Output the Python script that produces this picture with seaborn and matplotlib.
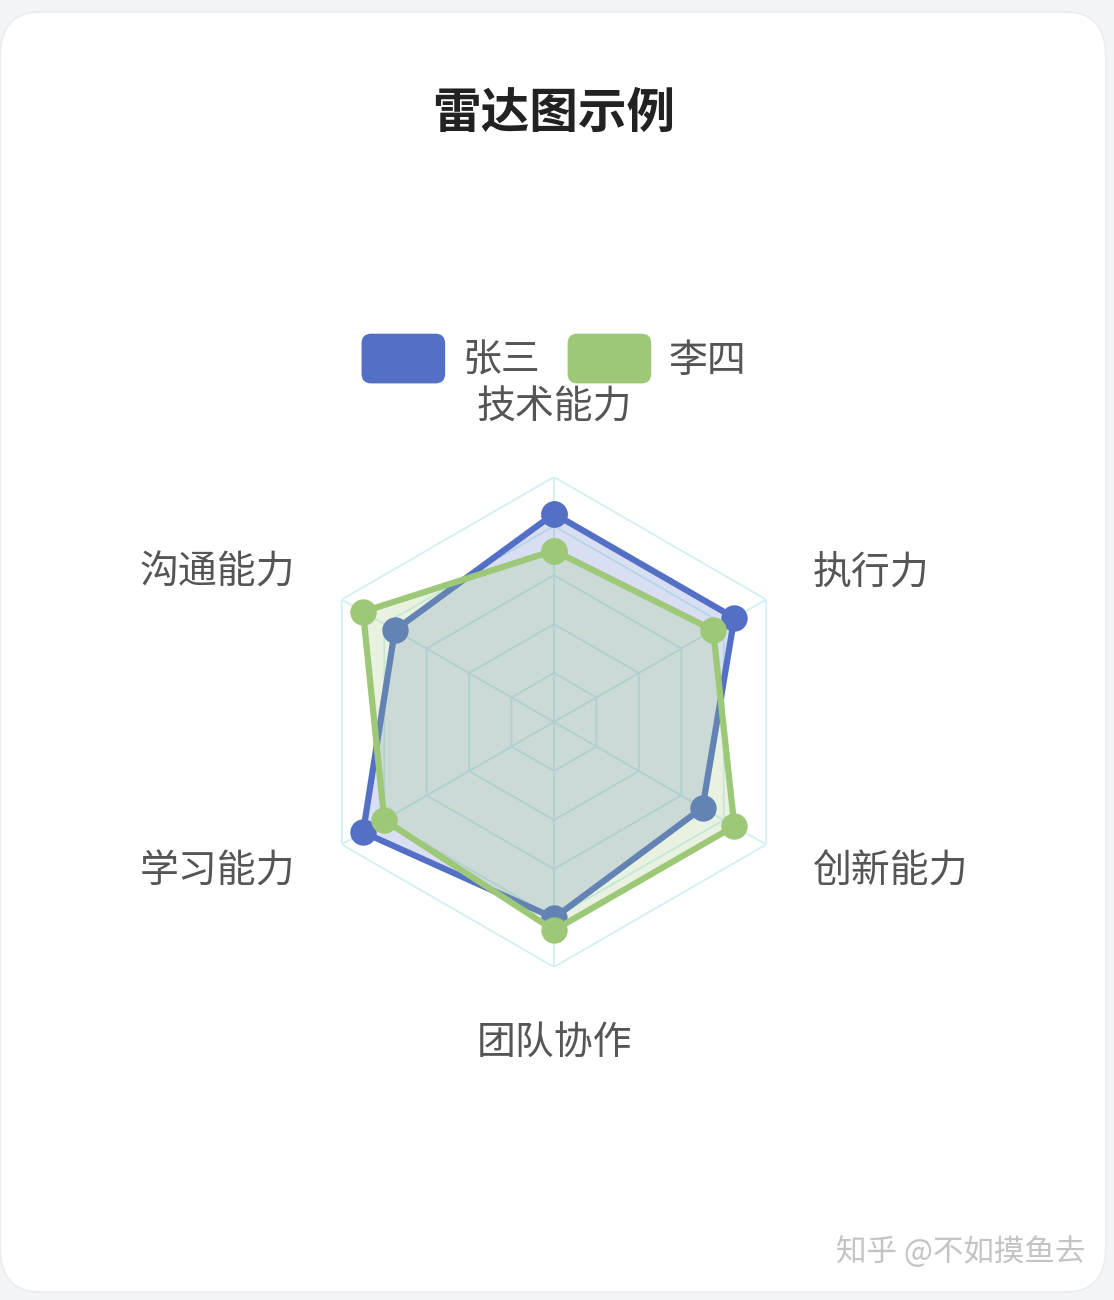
import numpy as np
import pandas as pd
import matplotlib
matplotlib.use("Agg")
import matplotlib.pyplot as plt
import seaborn as sns
from matplotlib.patches import FancyBboxPatch
from matplotlib.legend_handler import HandlerPatch

# data
indicators = ["技术能力", "执行力", "创新能力", "团队协作", "学习能力", "沟通能力"]
zhang_san = [85, 85, 70, 80, 90, 75]
li_si = [70, 75, 85, 85, 80, 90]
series_names = ["张三", "李四"]
max_value = 100
ring_levels = [20, 40, 60, 80, 100]

blue = "#5470c6"
green = "#9cc877"

sns.set_theme(style="white")
plt.rcParams["font.family"] = ["Noto Sans CJK SC", "DejaVu Sans"]

fig = plt.figure(figsize=(11.14, 13.0), dpi=100)
fig.patch.set_facecolor("#f3f4f6")

# white card
card = FancyBboxPatch((0.0, 8 / 1300), 1106 / 1114, 1280 / 1300,
                      boxstyle="round,pad=0,rounding_size=0.035",
                      transform=fig.transFigure, facecolor="white",
                      edgecolor="#eceef1", lw=1.5, zorder=-10)
fig.patches.append(card)

fig.text(554 / 1114, 1 - 113 / 1300, "雷达图示例", ha="center", va="center",
         fontsize=35, fontweight="bold", color="#222222")

cx, cy, rad = 554, 722, 245
ax = fig.add_axes([(cx - rad) / 1114, 1 - (cy + rad) / 1300,
                   2 * rad / 1114, 2 * rad / 1300], projection="polar")
ax.set_zorder(5)
ax.set_theta_offset(np.pi / 2)
ax.set_theta_direction(-1)
ax.set_facecolor("none")
ax.grid(False)
ax.spines["polar"].set_visible(False)

n = len(indicators)
angles = np.linspace(0, 2 * np.pi, n, endpoint=False)
closed = np.append(angles, angles[0] + 2 * np.pi)

# grid rings and spokes
for lv in ring_levels:
    ax.plot(closed, [lv] * (n + 1), color="#d2f0f2", lw=1.3, zorder=1)
for a in angles:
    ax.plot([a, a], [0, max_value], color="#d2f0f2", lw=1.3, zorder=1)

for name, vals, col, z in [(series_names[0], zhang_san, blue, 3),
                           (series_names[1], li_si, green, 4)]:
    df = pd.DataFrame({"angle": closed, "value": vals + vals[:1]})
    ax.fill(df["angle"], df["value"], color=col, alpha=0.22, lw=0, zorder=z)
    sns.lineplot(data=df, x="angle", y="value", sort=False, estimator=None,
                 ax=ax, color=col, lw=4.5, marker="o", markersize=19,
                 markeredgewidth=0, zorder=z + 0.5)

ax.set_ylim(0, max_value)
ax.set_xticks([])
ax.set_yticks([])
ax.set_xlabel("")
ax.set_ylabel("")

# indicator labels
for a, lab in zip(angles, indicators):
    s = np.sin(a)
    c = np.cos(a)
    if abs(s) < 0.01:
        ha = "center"
        if c > 0:
            va, r = "bottom", max_value * 294 / 245
        else:
            va, r = "top", max_value * 301 / 245
    else:
        ha = "left" if s > 0 else "right"
        va = "center"
        r = max_value * 299 / 245
    ax.text(a, r, lab, ha=ha, va=va, fontsize=28, color="#555555",
            clip_on=False)


class RoundHandler(HandlerPatch):
    def create_artists(self, legend, orig_handle, xdescent, ydescent,
                       width, height, fontsize, trans):
        p = FancyBboxPatch((-xdescent, -ydescent - 4), width, height + 8,
                           boxstyle="round,pad=0,rounding_size=%f" % (height * 0.25),
                           facecolor=orig_handle.get_facecolor(), lw=0)
        p.set_transform(trans)
        return [p]


handles = [FancyBboxPatch((0, 0), 1, 1, facecolor=blue),
           FancyBboxPatch((0, 0), 1, 1, facecolor=green)]
fig.legend(handles, series_names, loc="center",
           bbox_to_anchor=(554 / 1114, 1 - 360 / 1300), ncol=2, frameon=False,
           fontsize=28, handlelength=2.15, handleheight=1.15,
           handletextpad=0.45, columnspacing=0.7, labelcolor="#555555",
           handler_map={FancyBboxPatch: RoundHandler()})

# watermark
fig.text(1085 / 1114, 1 - 1252 / 1300, "知乎 @不如摸鱼去", ha="right",
         va="center", fontsize=22, color="#c4c4c4")

fig.savefig("out.png", dpi=100, facecolor=fig.get_facecolor())
